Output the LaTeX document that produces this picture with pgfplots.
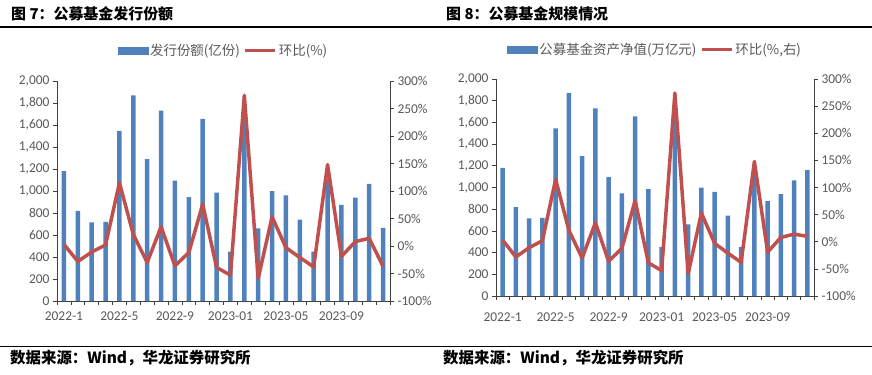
\documentclass[border=0pt]{standalone}
\usepackage{pgfplots}
\usepackage{pgfplotstable}
\pgfplotsset{compat=1.18}
\usepackage{fontspec}
\setmainfont{Carlito}
\newfontfamily\cjk{Noto Sans CJK SC}
\definecolor{barblue}{HTML}{4F81BD}
\definecolor{linered}{HTML}{C0504D}
\definecolor{txtgray}{HTML}{595959}

\pgfplotstableread{
m bara chga barb chgb
1 1180 3 1180 3
2 820 -28 820 -28
3 715 -11 715 -11
4 720 2 720 2
5 1545 115 1545 115
6 1870 21 1870 21
7 1290 -30 1290 -30
8 1730 35 1730 35
9 1095 -36 1095 -36
10 945 -12 945 -12
11 1655 76 1655 76
12 985 -39 985 -39
13 450 -53 450 -53
14 1660 274 1660 274
15 660 -59 660 -59
16 1000 53 1000 53
17 960 -3 960 -3
18 740 -21 740 -21
19 450 -38 450 -38
20 1110 148 1110 148
21 875 -19 875 -19
22 940 8 940 8
23 1065 14 1065 14
24 665 -37 1160 10
}\datatable

\pgfplotsset{
  common/.style={
    scale only axis,
    xmin=0.5, xmax=24.5,
    enlarge x limits=false,
    tick align=outside,
    major tick length=4bp,
    tick style={black!75, line width=0.6bp},
    axis line style={black!75, line width=0.7bp},
    ticklabel style={font=\fontsize{13.5}{13.5}\selectfont, text=txtgray},
    /pgf/number format/.cd, 1000 sep={,}, assume math mode=true,
  },
  barax/.style={
    common,
    ybar, bar width=4.6bp,
    ymin=0, ymax=2000, ytick={0,200,...,2000},
    axis y line*=left, axis x line*=bottom,
    xtick={0.5,1.5,...,24.5}, xticklabels={},
    extra x ticks={1,5,9,13,17,21},
    extra x tick labels={2022-1,2022-5,2022-9,2023-01,2023-05,2023-09},
    extra x tick style={major tick length=0pt, tick style={draw=none},
      xticklabel style={yshift=-7bp}},
  },
  lineax/.style={
    common,
    ymin=-100, ymax=300, ytick={-100,-50,...,300},
    axis y line*=right, axis x line=none,
    yticklabel={\pgfmathprintnumber{\tick}\%},
    legend columns=-1,
    legend style={draw=none, fill=none, font=\cjk\fontsize{13.5}{14}\selectfont,
      text=txtgray, anchor=center,
      /tikz/every even column/.append style={column sep=2bp}},
  },
}

\begin{document}
\begin{tikzpicture}[x=1bp,y=1bp]
\path[use as bounding box] (0,0) rectangle (872,374);

% titles
\node[anchor=west, inner sep=0pt, font=\cjk\bfseries\fontsize{15}{15}\selectfont] at (11,360) {图 7：公募基金发行份额};
\node[anchor=west, inner sep=0pt, font=\cjk\bfseries\fontsize{15}{15}\selectfont] at (446,360) {图 8：公募基金规模情况};
\draw[black, line width=1.2bp] (0,347) -- (872,347);
\draw[black, line width=0.8bp] (0,28) -- (872,28);
\node[anchor=west, inner sep=0pt, font=\cjk\bfseries\fontsize{15.5}{15.5}\selectfont] at (10,16) {数据来源：Wind，华龙证券研究所};
\node[anchor=west, inner sep=0pt, font=\cjk\bfseries\fontsize{15.5}{15.5}\selectfont] at (443,16) {数据来源：Wind，华龙证券研究所};

% ---------- panel 1 ----------
\begin{axis}[barax, at={(57bp,73bp)}, anchor=south west, width=333bp, height=220bp]
\addplot[fill=barblue, draw=none] table[x=m, y=bara] {\datatable};
\end{axis}
\begin{axis}[lineax, at={(57bp,73bp)}, anchor=south west, width=333bp, height=220bp,
  legend style={at={(0.5,1.14)}}]
\addlegendimage{legend image code/.code={\fill[barblue] (0bp,-3.5bp) rectangle (30bp,3.5bp);}}
\addlegendentry{发行份额(亿份)}
\addplot[linered, line width=3.5bp, line join=round, mark=none,
  legend image code/.code={\draw[linered, line width=3bp] (0bp,0bp) -- (30bp,0bp);}]
  table[x=m, y=chga] {\datatable};
\addlegendentry{环比(\%)}
\end{axis}

% ---------- panel 2 ----------
\begin{axis}[barax, at={(496bp,78bp)}, anchor=south west, width=318bp, height=217bp,
  extra x tick style={xticklabel style={yshift=-6bp}}]
\addplot[fill=barblue, draw=none] table[x=m, y=barb] {\datatable};
\end{axis}
\begin{axis}[lineax, at={(496bp,78bp)}, anchor=south west, width=318bp, height=217bp,
  legend style={at={(0.5,1.134)}}]
\addlegendimage{legend image code/.code={\fill[barblue] (0bp,-3.5bp) rectangle (30bp,3.5bp);}}
\addlegendentry{公募基金资产净值(万亿元)}
\addplot[linered, line width=3.5bp, line join=round, mark=none,
  legend image code/.code={\draw[linered, line width=3bp] (0bp,0bp) -- (30bp,0bp);}]
  table[x=m, y=chgb] {\datatable};
\addlegendentry{环比(\%,右)}
\end{axis}
\end{tikzpicture}
\end{document}
